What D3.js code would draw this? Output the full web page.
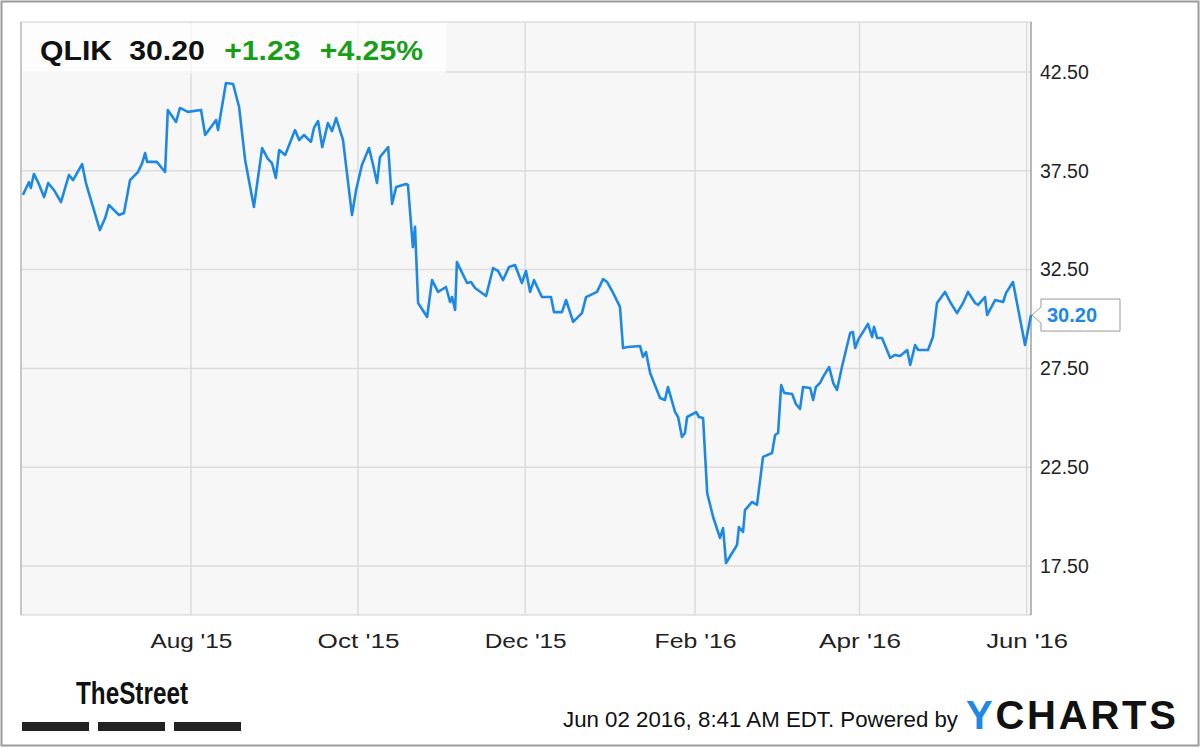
<!DOCTYPE html>
<html><head><meta charset="utf-8">
<script src="https://cdn.jsdelivr.net/npm/d3@7"></script>
<style>body{margin:0;background:#fff}svg{display:block}text{font-family:"Liberation Sans",Arial,sans-serif}</style>
</head><body><svg id="c" width="1200" height="747"></svg>
<script>
const startDate = new Date(2015, 4, 31);
const dayOffsets = [0.7,2.9,3.6,4.7,6.2,8.4,9.9,12,14.6,17.5,19,22.3,23.7,28.8,30.7,32.1,35.8,37.6,39.8,42.7,44.2,45.3,46,49.6,52.6,53.6,56.6,58,60.9,65.7,67.2,71.2,71.9,74.8,77.4,79.6,81.8,85,88,90.1,91.6,93,94.2,96.4,100,101.5,103.3,105.8,106.9,108.4,109.9,112,113.5,115,117.5,120.8,122.3,124.4,127,128.5,129.9,131,134,135.4,136.9,140.5,141.2,143,143.8,144.9,148.2,150,152.2,155.1,156.6,157.3,158.4,159.1,162.8,164.2,165.7,169.7,172.3,174.1,175.9,178.1,180.3,182.8,184.3,185.8,187.2,190.1,193.4,194.5,197.4,198.9,201.5,204.7,206.2,210.2,212.4,213.9,216.1,218.6,219.7,221.5,225.9,227,228.1,229.6,233.2,235,236.1,238.7,239.8,241.2,242.3,243.1,246.4,247.4,248.9,250.4,252.6,255.1,256.2,257.3,261.3,262,263.5,264.2,266.8,268.6,270.8,274.1,275.2,276.3,277.4,278.5,281.4,282.8,284.3,285.4,288,289.1,290.1,291.6,292.7,294.9,296.4,297.8,299.6,302.6,303.6,304.4,305.5,309.1,310.6,311.3,312.4,314.2,317.2,319,320.8,323.4,324.5,326.3,327.4,331,332.8,334.3,337.2,339.1,341.6,343.8,345.6,348.2,349.3,351.8,352.6,353.6,355.5,358.4,359.5,362,366.4,368.6];
const prices = [36.28,36.93,36.63,37.34,36.93,36.17,36.88,36.53,35.92,37.29,37.03,37.84,36.88,34.5,35.11,35.77,35.26,35.36,37.03,37.44,37.89,38.4,37.95,37.95,37.44,40.58,39.97,40.68,40.48,40.58,39.31,40.07,39.56,41.94,41.89,40.73,38.05,35.67,38.65,38.1,37.89,37.14,38.55,38.3,39.56,39.06,39.31,38.96,39.67,40.02,38.7,39.92,39.51,40.17,39.06,35.26,36.53,37.79,38.65,37.79,36.88,38.2,38.7,35.82,36.68,36.83,36.78,33.64,34.66,30.81,30.1,31.97,31.37,31.62,30.86,31.11,30.46,32.88,31.82,31.87,31.57,31.16,32.58,32.43,31.97,32.63,32.73,31.82,32.43,31.37,31.97,31.11,31.11,30.35,30.35,30.96,29.85,30.3,31.11,31.37,32.02,31.87,31.32,30.61,28.53,28.58,28.63,28.08,28.33,27.27,26,25.9,26.56,25.29,25.04,24.03,24.23,25.04,25.29,25.04,24.99,21.19,19.98,18.92,19.42,17.65,18.56,19.47,19.22,20.33,20.74,20.59,23.02,23.22,24.13,24.23,26.66,26.26,26.2,25.7,25.45,26.56,26.51,25.9,26.56,26.76,27.07,27.57,26.76,26.41,27.57,29.29,29.34,28.53,28.94,29.75,29.09,29.6,29.04,29.04,28.03,28.18,28.13,28.43,27.67,28.68,28.43,28.43,29.09,30.81,31.37,30.86,30.3,30.81,31.37,30.81,30.71,31.11,30.2,30.46,30.96,30.86,31.32,31.87,28.68,30.2];
const yTicks = [17.5,22.5,27.5,32.5,37.5,42.5];
const xTickDates = ["2015-08-01","2015-10-01","2015-12-01","2016-02-01","2016-04-01","2016-06-01"];
const xTickLabels = ["Aug '15","Oct '15","Dec '15","Feb '16","Apr '16","Jun '16"];
const ticker = "QLIK", last = "30.20", chg = "+1.23", pct = "+4.25%";

const svg = d3.select("#c");
const L=21,R=1031,T=22,B=615;
const data = dayOffsets.map((d,i)=>({date:d3.timeHour.offset(startDate, Math.round(d*24)), v:prices[i]}));
const x = d3.scaleTime().domain([startDate, d3.timeHour.offset(startDate, Math.round(368.6*24))]).range([L, 1031]);
const y = d3.scaleLinear().domain([15.02,45.03]).range([B,T]);
const pd = d3.timeParse("%Y-%m-%d");

svg.append("rect").attr("x",1.5).attr("y",1.5).attr("width",1197).attr("height",744).attr("fill","#fff").attr("stroke","#9a9a9a").attr("stroke-width",2);
svg.append("rect").attr("x",L).attr("y",T).attr("width",R-L).attr("height",B-T).attr("fill","#f7f7f7").attr("stroke","#cfcfcf");

svg.append("g").selectAll("line").data(yTicks).join("line")
 .attr("x1",L).attr("x2",R).attr("y1",d=>y(d)).attr("y2",d=>y(d)).attr("stroke","#dcdcdc").attr("stroke-width",1.5);
svg.append("g").selectAll("line").data(xTickDates).join("line")
 .attr("x1",d=>x(pd(d))).attr("x2",d=>x(pd(d))).attr("y1",T).attr("y2",B).attr("stroke","#dcdcdc").attr("stroke-width",1.5);
svg.append("line").attr("x1",L).attr("x2",L).attr("y1",T).attr("y2",B).attr("stroke","#aaa");
svg.append("line").attr("x1",R).attr("x2",R).attr("y1",T).attr("y2",B).attr("stroke","#888");

const ya = d3.axisRight(y).tickValues(yTicks).tickFormat(d3.format(".2f")).tickSize(0).tickPadding(9);
const gy = svg.append("g").attr("transform",`translate(${R},0)`).call(ya);
gy.select(".domain").remove();
gy.selectAll("text").attr("font-size",19.5).attr("fill","#222").attr("font-family","Liberation Sans, Arial");
const xa = d3.axisBottom(x).tickValues(xTickDates.map(pd)).tickFormat((d,i)=>xTickLabels[i]).tickSize(0).tickPadding(19);
const gx = svg.append("g").attr("transform",`translate(0,${B})`).call(xa);
gx.select(".domain").remove();
gx.selectAll("text").attr("font-size",19.5).attr("fill","#222").attr("font-family","Liberation Sans, Arial").attr("textLength",82).attr("lengthAdjust","spacingAndGlyphs");

svg.append("path").datum(data).attr("fill","none").attr("stroke","#1e88e5").attr("stroke-width",2.6).attr("stroke-linejoin","round")
 .attr("d", d3.line().x(d=>x(d.date)).y(d=>y(d.v)));

svg.append("rect").attr("x",L+1).attr("y",T+1).attr("width",424).attr("height",50).attr("fill","#fff").attr("opacity",0.7);
const h = svg.append("text").attr("x",40).attr("y",60).attr("font-size",28).attr("font-weight","bold").attr("textLength",383).attr("lengthAdjust","spacingAndGlyphs");
h.append("tspan").text(ticker).attr("fill","#111");
h.append("tspan").text(last).attr("fill","#111").attr("dx",16);
h.append("tspan").text(chg).attr("fill","#1a9e1a").attr("dx",18);
h.append("tspan").text(pct).attr("fill","#1a9e1a").attr("dx",18);

const ly = y(30.2);
svg.append("path").attr("d",`M${R+1},${ly} L${R+10},${ly-8} L${R+10},${ly-16} L1120,${ly-16} L1120,${ly+16} L${R+10},${ly+16} L${R+10},${ly+8} Z`)
 .attr("fill","#fff").attr("stroke","#999");
svg.append("text").attr("x",1047).attr("y",ly+7).attr("font-size",20).attr("font-weight","bold").attr("fill","#1e88e5").text(last);

svg.append("text").attr("x",76).attr("y",704).attr("font-size",32).attr("font-weight","bold").attr("fill","#111")
 .attr("textLength",112).attr("lengthAdjust","spacingAndGlyphs").text("TheStreet");
[22,98,174].forEach(v=>svg.append("rect").attr("x",v).attr("y",722).attr("width",67).attr("height",9).attr("fill","#222"));
svg.append("text").attr("x",563).attr("y",727).attr("font-size",22).attr("fill","#111")
 .attr("textLength",395).attr("lengthAdjust","spacingAndGlyphs").text("Jun 02 2016, 8:41 AM EDT.  Powered by");
const yc = svg.append("text").attr("x",966).attr("y",729).attr("font-size",40).attr("font-weight","bold").attr("textLength",210);
yc.append("tspan").text("Y").attr("fill","#1e88e5");
yc.append("tspan").text("CHARTS").attr("fill","#111");
</script></body></html>
